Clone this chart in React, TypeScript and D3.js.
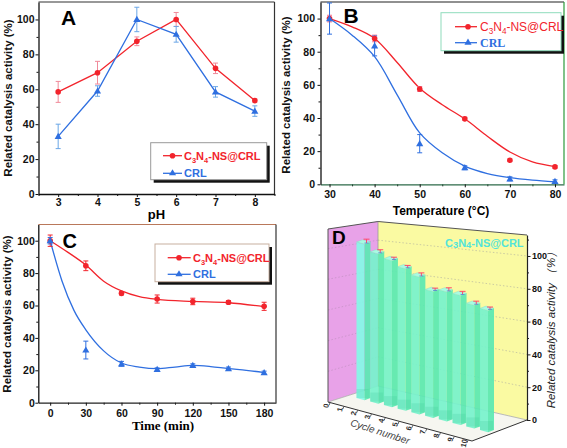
import React, { useRef, useEffect } from 'react';
import * as d3 from 'd3';

const SANS = "'Liberation Sans', Arial, sans-serif";
const SERIF = "'Liberation Serif', 'Times New Roman', serif";
const RED = '#f2242c';
const BLUE = '#2f6fe0';

// Panel A: pH
const phValues = [3, 4, 5, 6, 7, 8];
const phNs = [58.5, 69.5, 87.5, 100, 72, 53.5];
const phNsErr = [6, 6.5, 2.5, 4, 3, 1];
const phCrl = [33, 59, 100, 91.5, 58.5, 47.5];
const phCrlErr = [7, 3, 7, 4.5, 3, 3];

// Panel B: temperature
const tempValues = [30, 40, 50, 60, 70, 80];
const tempNs = [100, 88, 57.5, 39.5, 14.5, 10.5];
const tempNsErr = [2, 2, 1.5, 1, 0.8, 0.8];
const tempCrl = [100, 83.5, 24.5, 10, 3.3, 1.7];
const tempCrlErr = [9.4, 6, 5.5, 1.2, 1.2, 1];
const tempFitX = [30, 35, 40, 45, 50, 55, 60, 65, 70, 75, 80];
const tempFitNs = [100, 95, 88, 73.5, 58, 48, 39.5, 29, 19.5, 13.5, 10.7];
const tempFitCrl = [100, 90, 77, 54, 31, 19, 11, 6.5, 4, 2.5, 1.5];

// Panel C: time
const timeValues = [0, 30, 60, 90, 120, 150, 180];
const timeNs = [100, 84.5, 67.5, 64, 62.5, 62, 59.5];
const timeNsErr = [3.5, 3, 1, 2.5, 2, 1, 2.5];
const timeCrl = [100, 32.5, 24, 20.5, 23, 21, 18.5];
const timeCrlErr = [2, 5.5, 1.5, 1, 1, 1, 1];
const timeFitNsX = [0, 15, 30, 45, 60, 75, 90, 120, 150, 180];
const timeFitNs = [100, 92.8, 85, 75, 69, 65.5, 63.8, 62.5, 61.7, 59.3];
const timeFitCrlX = [0, 10, 20, 30, 45, 60, 75, 90, 105, 120, 135, 150, 165, 180];
const timeFitCrl = [100, 75, 57, 45, 32, 24.5, 22, 21, 22, 23, 22.3, 21, 20, 18.6];

// Panel D: reuse cycles
const cycles = [1, 2, 3, 4, 5, 6, 7, 8, 9, 10];
const cycleActivity = [100, 96, 94, 91, 88, 81, 83, 83, 79, 78];
const cycleErr = [2.5, 2, 1.5, 1.5, 2, 1.5, 2, 2, 2, 1.5];
const cycleTicks = [0, 1, 2, 3, 4, 5, 6, 7, 8, 9, 10];
const activityTicks = [0, 20, 40, 60, 80, 100];
const activityMinor = [10, 30, 50, 70, 90, 110];

const yTicks = [0, 20, 40, 60, 80, 100];
const yMinor = [10, 30, 50, 70, 90];

type Sel = d3.Selection<any, any, any, any>;

interface PanelCfg {
  left: number; right: number; top: number; bottom: number;
  xDomain: [number, number];
  xTicks: number[]; xMinor: number[];
  xPad: number; yPad: number;
  topColor: string; rightColor: string; bottomColor: string;
}

function panel(svg: Sel, p: PanelCfg) {
  const x = d3.scaleLinear().domain(p.xDomain).range([p.left, p.right]);
  const y = d3.scaleLinear().domain([0, 110]).range([p.bottom, p.top]);
  const g = svg.append('g');

  g.append('line').attr('x1', p.left).attr('x2', p.right).attr('y1', p.top).attr('y2', p.top)
    .attr('stroke', p.topColor).attr('stroke-width', 1.2);
  g.append('line').attr('x1', p.right).attr('x2', p.right).attr('y1', p.top).attr('y2', p.bottom)
    .attr('stroke', p.rightColor).attr('stroke-width', 1.2);

  const style = (s: Sel) => {
    s.selectAll('.tick line').attr('stroke', '#111').attr('stroke-width', 1);
    s.selectAll('text').attr('font-family', SANS).attr('font-weight', 'bold')
      .attr('font-size', 10.5).attr('fill', '#111');
  };
  const fmt = d3.format('d');

  g.append('g').attr('transform', `translate(0,${p.bottom})`)
    .call(d3.axisBottom(x).tickValues(p.xMinor).tickSize(2).tickFormat(() => ''))
    .call(s => s.select('.domain').remove()).call(style);
  const gx = g.append('g').attr('transform', `translate(0,${p.bottom})`)
    .call(d3.axisBottom(x).tickValues(p.xTicks).tickSize(3).tickSizeOuter(0).tickPadding(p.xPad).tickFormat(d => fmt(d as number)))
    .call(style);
  gx.select('.domain').attr('stroke', p.bottomColor).attr('stroke-width', 1.3);

  g.append('g').attr('transform', `translate(${p.left},0)`)
    .call(d3.axisLeft(y).tickValues(yMinor).tickSize(2).tickFormat(() => ''))
    .call(s => s.select('.domain').remove()).call(style);
  const gy = g.append('g').attr('transform', `translate(${p.left},0)`)
    .call(d3.axisLeft(y).tickValues(yTicks).tickSize(3).tickSizeOuter(0).tickPadding(p.yPad).tickFormat(d => fmt(d as number)))
    .call(style);
  gy.select('.domain').attr('stroke', '#111').attr('stroke-width', 1.3);

  return { g, x, y };
}

function yTitle(svg: Sel, x: number, y: number) {
  svg.append('text')
    .attr('transform', `translate(${x},${y}) rotate(-90)`)
    .attr('text-anchor', 'middle')
    .attr('font-family', SANS).attr('font-weight', 'bold').attr('font-size', 11.5)
    .attr('fill', '#111')
    .text('Related catalysis activity (%)');
}

function formula(t: Sel, size: number, sub = true) {
  const s = sub ? size * 0.68 : size * 0.85;
  const d = sub ? size * 0.28 : size * 0.12;
  t.append('tspan').text('C');
  t.append('tspan').text('3').attr('font-size', s).attr('dy', d);
  t.append('tspan').text('N').attr('dy', -d);
  t.append('tspan').text('4').attr('font-size', s).attr('dy', d);
  t.append('tspan').text('-NS@CRL').attr('dy', -d);
}

function errorBars(g: Sel, x: any, y: any, xs: number[], vs: number[], es: number[], color: string) {
  xs.forEach((xv, i) => {
    const cx = x(xv);
    const y1 = y(vs[i] + es[i]);
    const y2 = y(vs[i] - es[i]);
    g.append('line').attr('x1', cx).attr('x2', cx).attr('y1', y1).attr('y2', y2)
      .attr('stroke', color).attr('stroke-width', 1);
    [y1, y2].forEach(yy => g.append('line').attr('x1', cx - 2.5).attr('x2', cx + 2.5)
      .attr('y1', yy).attr('y2', yy).attr('stroke', color).attr('stroke-width', 1));
  });
}

function markers(g: Sel, x: any, y: any, xs: number[], vs: number[], kind: 'circle' | 'tri', color: string) {
  xs.forEach((xv, i) => {
    if (kind === 'circle') {
      g.append('circle').attr('cx', x(xv)).attr('cy', y(vs[i])).attr('r', 2.8).attr('fill', color);
    } else {
      g.append('path').attr('d', d3.symbol(d3.symbolTriangle, 22)())
        .attr('transform', `translate(${x(xv)},${y(vs[i]) + 0.5})`).attr('fill', color);
    }
  });
}

function curve(g: Sel, x: any, y: any, xs: number[], vs: number[], color: string, c: any) {
  const line = d3.line<number>().x(d => x(d)).y((d, i) => y(vs[i])).curve(c);
  g.append('path').datum(xs).attr('d', line).attr('fill', 'none')
    .attr('stroke', color).attr('stroke-width', 1.3);
}

interface LegendCfg {
  x: number; y: number; w: number; h: number; border: string;
  lx1: number; lx2: number; mx: number; tx: number; y1: number; y2: number;
  size: number; nsWeight: string; crlFont: string;
}

function legend(svg: Sel, l: LegendCfg) {
  const g = svg.append('g');
  g.append('rect').attr('x', l.x + 3).attr('y', l.y + 3).attr('width', l.w).attr('height', l.h).attr('fill', '#111');
  g.append('rect').attr('x', l.x).attr('y', l.y).attr('width', l.w).attr('height', l.h)
    .attr('fill', '#fff').attr('stroke', l.border).attr('stroke-width', 1);
  g.append('line').attr('x1', l.lx1).attr('x2', l.lx2).attr('y1', l.y1).attr('y2', l.y1).attr('stroke', RED).attr('stroke-width', 1.3);
  g.append('circle').attr('cx', l.mx).attr('cy', l.y1).attr('r', 2.8).attr('fill', RED);
  g.append('line').attr('x1', l.lx1).attr('x2', l.lx2).attr('y1', l.y2).attr('y2', l.y2).attr('stroke', BLUE).attr('stroke-width', 1.3);
  g.append('path').attr('d', d3.symbol(d3.symbolTriangle, 22)()).attr('transform', `translate(${l.mx},${l.y2})`).attr('fill', BLUE);
  const t1 = g.append('text').attr('x', l.tx).attr('y', l.y1 + l.size * 0.36)
    .attr('font-family', SANS).attr('font-weight', l.nsWeight).attr('font-size', l.size).attr('fill', RED);
  formula(t1, l.size);
  g.append('text').attr('x', l.tx).attr('y', l.y2 + l.size * 0.36)
    .attr('font-family', l.crlFont).attr('font-weight', 'bold').attr('font-size', l.size).attr('fill', BLUE)
    .text('CRL');
}

function panelLetter(svg: Sel, x: number, y: number, s: string, size = 21) {
  svg.append('text').attr('x', x).attr('y', y).attr('font-family', SANS).attr('font-weight', 'bold')
    .attr('font-size', size).attr('fill', '#000').text(s);
}

function drawA(svg: Sel) {
  const { g, x, y } = panel(svg, {
    left: 38.5, right: 274.5, top: 2, bottom: 194, xDomain: [2.5, 8.5],
    xTicks: phValues, xMinor: [2.5, 3.5, 4.5, 5.5, 6.5, 7.5, 8.5], xPad: 1.5, yPad: 1,
    topColor: '#333', rightColor: '#333', bottomColor: '#111',
  });
  errorBars(g, x, y, phValues, phNs, phNsErr, '#f08a9a');
  errorBars(g, x, y, phValues, phCrl, phCrlErr, '#6aa6e6');
  curve(g, x, y, phValues, phNs, RED, d3.curveLinear);
  curve(g, x, y, phValues, phCrl, BLUE, d3.curveLinear);
  markers(g, x, y, phValues, phNs, 'circle', RED);
  markers(g, x, y, phValues, phCrl, 'tri', BLUE);
  svg.append('text').attr('x', 156.5).attr('y', 219).attr('text-anchor', 'middle')
    .attr('font-family', SANS).attr('font-weight', 'bold').attr('font-size', 13).text('pH');
  yTitle(svg, 11.5, 98);
  panelLetter(svg, 61, 25, 'A');
  legend(svg, {
    x: 150.7, y: 142.7, w: 116, h: 37, border: '#9a9a9a',
    lx1: 163, lx2: 182, mx: 172.5, tx: 184, y1: 155.7, y2: 173.3,
    size: 11, nsWeight: 'bold', crlFont: SANS,
  });
}

function drawB(svg: Sel) {
  const { g, x, y } = panel(svg, {
    left: 320.5, right: 564, top: 2, bottom: 184.3, xDomain: [28, 82],
    xTicks: tempValues, xMinor: [35, 45, 55, 65, 75], xPad: 3.5, yPad: 2.5,
    topColor: '#222', rightColor: '#2a9a3a', bottomColor: '#2c6a48',
  });
  curve(g, x, y, tempFitX, tempFitNs, RED, d3.curveCatmullRom);
  curve(g, x, y, tempFitX, tempFitCrl, BLUE, d3.curveCatmullRom);
  errorBars(g, x, y, tempValues, tempNs, tempNsErr, '#f07090');
  errorBars(g, x, y, tempValues, tempCrl, tempCrlErr, BLUE);
  markers(g, x, y, tempValues, tempNs, 'circle', RED);
  markers(g, x, y, tempValues, tempCrl, 'tri', BLUE);
  svg.append('text').attr('x', 441).attr('y', 215).attr('text-anchor', 'middle')
    .attr('font-family', SANS).attr('font-weight', 'bold').attr('font-size', 12).text('Temperature (°C)');
  yTitle(svg, 290, 95);
  panelLetter(svg, 343.5, 23, 'B');
  legend(svg, {
    x: 441, y: 12.7, w: 120, h: 38, border: '#8fdcbc',
    lx1: 455, lx2: 477, mx: 468, tx: 480, y1: 26.7, y2: 42.7,
    size: 12, nsWeight: 'normal', crlFont: SERIF,
  });
}

function drawC(svg: Sel) {
  const { g, x, y } = panel(svg, {
    left: 38.3, right: 276, top: 224.5, bottom: 402.7, xDomain: [-10, 190],
    xTicks: timeValues, xMinor: [15, 45, 75, 105, 135, 165], xPad: 3.5, yPad: 0.5,
    topColor: '#b9785a', rightColor: '#333', bottomColor: '#222',
  });
  curve(g, x, y, timeFitNsX, timeFitNs, RED, d3.curveMonotoneX);
  curve(g, x, y, timeFitCrlX, timeFitCrl, BLUE, d3.curveMonotoneX);
  errorBars(g, x, y, timeValues, timeNs, timeNsErr, RED);
  errorBars(g, x, y, timeValues, timeCrl, timeCrlErr, BLUE);
  markers(g, x, y, timeValues, timeNs, 'circle', RED);
  markers(g, x, y, timeValues, timeCrl, 'tri', BLUE);
  svg.append('text').attr('x', 163).attr('y', 430).attr('text-anchor', 'middle')
    .attr('font-family', SERIF).attr('font-weight', 'bold').attr('font-size', 13).text('Time (min)');
  yTitle(svg, 11, 314);
  panelLetter(svg, 62.5, 247.5, 'C', 20);
  legend(svg, {
    x: 155, y: 244, w: 114, h: 37.7, border: '#c8b0a0',
    lx1: 167.7, lx2: 190.7, mx: 179, tx: 193, y1: 257.7, y2: 274.3,
    size: 11, nsWeight: 'bold', crlFont: SANS,
  });
}

function drawD(svg: Sel) {
  const g = svg.append('g');
  // walls and floor
  g.append('polygon').attr('points', '328,229 378,221.5 378,386 328,402').attr('fill', '#e8a2e8');
  g.append('polygon').attr('points', '378,221.5 527,235 527,420 378,386').attr('fill', '#fafaa2');
  g.append('polygon').attr('points', '328,402 378,386 527,420 472,441').attr('fill', '#f6f6f0');

  const yD = d3.scaleLinear().domain([0, 112.8]).range([420, 235]);
  const yBack = d3.scaleLinear().domain([0, 112.8]).range([386, 221.5]);
  const yPinkL = d3.scaleLinear().domain([0, 112.8]).range([402, 229]);
  activityTicks.slice(1).forEach(v => {
    g.append('line').attr('x1', 378).attr('y1', yBack(v)).attr('x2', 527).attr('y2', yD(v))
      .attr('stroke', '#b8b8a0').attr('stroke-width', 0.7).attr('stroke-dasharray', '1.5,2');
    g.append('line').attr('x1', 328).attr('y1', yPinkL(v)).attr('x2', 378).attr('y2', yBack(v))
      .attr('stroke', '#c090c0').attr('stroke-width', 0.7).attr('stroke-dasharray', '1.5,2');
  });

  // edges
  const edge = (pts: string, c = '#555', w = 1) =>
    g.append('polyline').attr('points', pts).attr('fill', 'none').attr('stroke', c).attr('stroke-width', w);
  edge('328,402 328,229 378,221.5 527,235');
  edge('378,221.5 378,386', '#999', 0.8);
  edge('328,402 378,386 527,420', '#aaa', 0.8);
  edge('328,402 472,441 527,420', '#333', 1);

  // bars
  const xBar = d3.scaleLinear().domain([1, 10]).range([356.5, 480]);
  const yBase = d3.scaleLinear().domain([1, 10]).range([398, 430]);
  const hBar = d3.scaleLinear().domain([0, 100]).range([0, 156]);
  const wf = 8, fs = 0.27, ds = 6, dsy = -2.2;
  const pts = (a: number[][]) => a.map(p => p.join(',')).join(' ');
  cycles.forEach((c, i) => {
    const x0 = xBar(c), yb = yBase(c), h = hBar(cycleActivity[i]);
    const front = [[x0, yb], [x0 + wf, yb + wf * fs], [x0 + wf, yb + wf * fs - h], [x0, yb - h]];
    const side = [[x0 + wf, yb + wf * fs], [x0 + wf + ds, yb + wf * fs + dsy], [x0 + wf + ds, yb + wf * fs + dsy - h], [x0 + wf, yb + wf * fs - h]];
    const top = [[x0, yb - h], [x0 + wf, yb + wf * fs - h], [x0 + wf + ds, yb + wf * fs + dsy - h], [x0 + ds, yb + dsy - h]];
    g.append('polygon').attr('points', pts(front)).attr('fill', i === 0 ? '#84f8e6' : '#76f2cc').attr('fill-opacity', 0.92);
    g.append('polygon').attr('points', pts(side)).attr('fill', '#5ae8b2').attr('fill-opacity', 0.92);
    g.append('polygon').attr('points', pts(top)).attr('fill', '#a8fbe2').attr('stroke', '#7fd8c0').attr('stroke-width', 0.4);
    g.append('rect').attr('x', x0).attr('y', yb - 9).attr('width', wf + ds - 1).attr('height', 9)
      .attr('fill', '#3fc89a').attr('fill-opacity', 0.22);
    // error bar
    const ex = x0 + wf + 2;
    const ey = yb + wf * fs + dsy / 2 - h;
    const e = hBar(cycleErr[i]);
    g.append('line').attr('x1', ex).attr('x2', ex).attr('y1', ey - e).attr('y2', ey).attr('stroke', '#ff4a6a').attr('stroke-width', 1);
    g.append('line').attr('x1', ex - 3).attr('x2', ex + 3).attr('y1', ey - e).attr('y2', ey - e).attr('stroke', '#ff4a6a').attr('stroke-width', 1);
    g.append('line').attr('x1', ex - 2).attr('x2', ex + 2).attr('y1', ey).attr('y2', ey).attr('stroke', '#5080d0').attr('stroke-width', 0.8);
  });

  // right value axis
  g.append('g').attr('transform', 'translate(527,0)')
    .call(d3.axisRight(yD).tickValues(activityMinor).tickSize(2).tickFormat(() => ''))
    .call(s => s.select('.domain').remove());
  const gm = g.append('g').attr('transform', 'translate(527,0)')
    .call(d3.axisRight(yD).tickValues(activityTicks).tickSize(3.5).tickSizeOuter(0).tickPadding(1.5));
  g.selectAll('.tick line').attr('stroke', '#222');
  gm.select('.domain').attr('stroke', '#222').attr('stroke-width', 1.2);
  gm.selectAll('text').attr('font-family', SANS).attr('font-weight', 'bold').attr('font-size', 9).attr('fill', '#111');

  svg.append('text').attr('transform', 'translate(555,327) rotate(-90)').attr('text-anchor', 'middle')
    .attr('font-family', SANS).attr('font-style', 'italic').attr('font-size', 11.5).attr('fill', '#222')
    .text('Related catalysis activity （%）');

  // cycle axis
  const cx = d3.scaleLinear().domain([0, 10]).range([330, 468]);
  const cy = d3.scaleLinear().domain([0, 10]).range([402.8, 440.3]);
  cycleTicks.forEach(c => {
    g.append('line').attr('x1', cx(c)).attr('y1', cy(c)).attr('x2', cx(c) - 1).attr('y2', cy(c) + 2.5)
      .attr('stroke', '#333').attr('stroke-width', 0.8);
    g.append('text').attr('transform', `translate(${cx(c) - 4},${cy(c) + 3}) rotate(-80)`)
      .attr('text-anchor', 'middle').attr('dy', '0.35em')
      .attr('font-family', SANS).attr('font-weight', 'bold').attr('font-size', 7.5)
      .attr('fill', '#333').text(String(c));
  });
  svg.append('text').attr('transform', 'translate(379,435) rotate(18)').attr('text-anchor', 'middle')
    .attr('font-family', SANS).attr('font-style', 'italic').attr('font-size', 10).attr('fill', '#444')
    .text('Cycle number');

  panelLetter(svg, 332, 243.5, 'D', 19);
  const t = svg.append('text').attr('x', 445).attr('y', 247).attr('font-family', SANS)
    .attr('font-weight', 'bold').attr('font-size', 11).attr('fill', '#52e4da');
  formula(t, 11, false);
}

export default function App() {
  const ref = useRef<SVGSVGElement | null>(null);

  useEffect(() => {
    if (!ref.current) return;
    const svg = d3.select(ref.current);
    svg.selectAll('*').remove();
    drawA(svg);
    drawB(svg);
    drawC(svg);
    drawD(svg);
  }, []);

  return (
    <svg
      ref={ref}
      width={567}
      height={448}
      style={{ position: 'absolute', left: 0, top: 0, background: '#fff' }}
    />
  );
}
